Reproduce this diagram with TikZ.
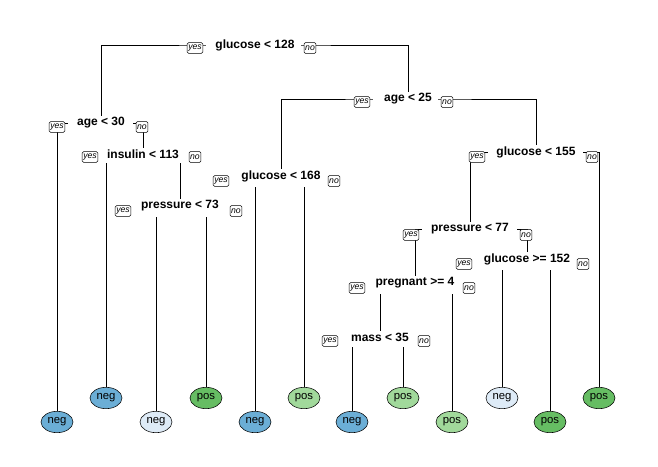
\documentclass[tikz,border=0pt]{standalone}
\usepackage{fontspec}
\setmainfont{Liberation Sans}
\usetikzlibrary{shapes.geometric,backgrounds}
\definecolor{negdark}{HTML}{6BAED6}
\definecolor{neglight}{HTML}{DEEBF7}
\definecolor{posdark}{HTML}{66BD63}
\definecolor{poslight}{HTML}{A1D99B}
\tikzset{
  split/.style={fill=white,inner sep=1pt,font=\fontsize{9}{10}\selectfont\bfseries},
  tag/.style={draw,fill=white,rounded corners=1pt,inner sep=0.8pt,minimum height=8pt,font=\fontsize{6.5}{7}\selectfont\itshape},
  leaf/.style={ellipse,draw,inner sep=0pt,minimum width=24pt,minimum height=16pt,font=\fontsize{8.5}{9}\selectfont},
}
\begin{document}
\begin{tikzpicture}[x=0.75pt,y=-0.75pt]
\useasboundingbox (0,0) rectangle (658,467);

% splits
\node[split] (s1) at (255,45) {glucose < 128};
\node[split] (s2) at (101,123) {age < 30};
\node[split] (s3) at (143,154) {insulin < 113};
\node[split] (s4) at (180,206) {pressure < 73};
\node[split] (s5) at (408,99) {age < 25};
\node[split] (s6) at (281,176) {glucose < 168};
\node[split] (s7) at (536,152) {glucose < 155};
\node[split] (s8) at (470,229) {pressure < 77};
\node[split] (s9) at (415,283) {pregnant >= 4};
\node[split] (s10) at (527,259) {glucose >= 152};
\node[split] (s11) at (380,337) {mass < 35};

% yes / no tags
\foreach \n/\a/\b/\y in {1/195/310/48, 2/57/142/127, 3/90/195/157, 4/123/236/211,
    5/362/447/102, 6/221/334/181, 7/477/592/157, 8/411/526/235,
    9/357/469/288, 10/464/583/264, 11/330/424/341} {
  \node[tag] (y\n) at (\a,\y) {yes};
  \node[tag] (n\n) at (\b,\y) {no};
}

% leaves
\node[leaf,fill=negdark] (l1) at (57,422) {neg};
\node[leaf,fill=negdark] (l2) at (106,398) {neg};
\node[leaf,fill=neglight] (l3) at (156,422) {neg};
\node[leaf,fill=posdark] (l4) at (206,398) {pos};
\node[leaf,fill=negdark] (l5) at (255,422) {neg};
\node[leaf,fill=poslight] (l6) at (304,398) {pos};
\node[leaf,fill=negdark] (l7) at (352,422) {neg};
\node[leaf,fill=poslight] (l8) at (403,398) {pos};
\node[leaf,fill=poslight] (l9) at (452,422) {pos};
\node[leaf,fill=neglight] (l10) at (502,398) {neg};
\node[leaf,fill=posdark] (l11) at (550,422) {pos};
\node[leaf,fill=posdark] (l12) at (599,398) {pos};

\begin{pgfonlayer}{background}
\draw (s2.north) |- (s1.center) -| (s5.north);
\draw (l1.north) |- (s2.center) -| (s3.north);
\draw (l2.north) |- (s3.center) -| (s4.north);
\draw (l3.north) |- (s4.center) -| (l4.north);
\draw (s6.north) |- (s5.center) -| (s7.north);
\draw (l5.north) |- (s6.center) -| (l6.north);
\draw (s8.north) |- (s7.center) -| (l12.north);
\draw (s9.north) |- (s8.center) -| (s10.north);
\draw (s11.north) |- (s9.center) -| (l9.north);
\draw (l10.north) |- (s10.center) -| (l11.north);
\draw (l7.north) |- (s11.center) -| (l8.north);
% white band under each split label
\foreach \n in {1,...,11}
  \fill[white] ([xshift=2pt]y\n.east |- s\n.north) rectangle ([xshift=-2pt]n\n.west |- y\n.south);
\end{pgfonlayer}
\end{tikzpicture}
\end{document}
